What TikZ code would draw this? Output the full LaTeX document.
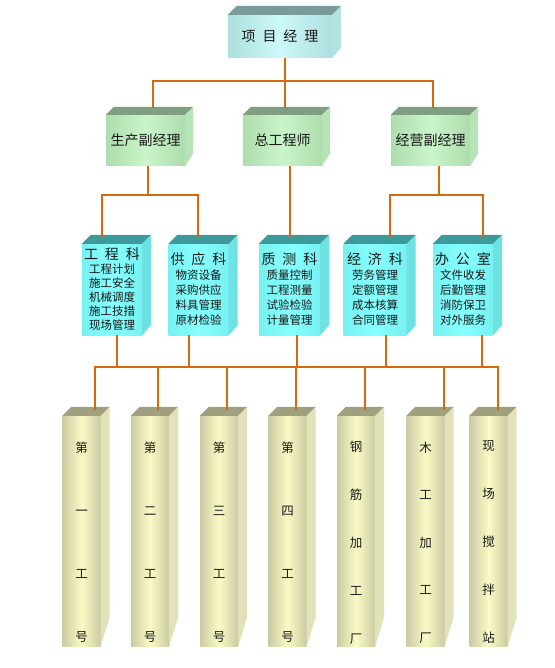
\documentclass[tikz,border=0pt]{standalone}
\usepackage{fontspec}
\newfontfamily\cjk[WordSpace=2.2]{Noto Sans CJK SC}
\newcommand{\deptfont}{\fontsize{14}{15}\selectfont}
\definecolor{linkcol}{HTML}{D4690F}
\definecolor{pmmid}{HTML}{CBF8F8}
\definecolor{pmedge}{HTML}{AEDFDF}
\definecolor{pmtopc}{HTML}{7B9B9A}
\definecolor{pmsidec}{HTML}{B2E2E2}
\definecolor{mgrmid}{HTML}{CAF5CA}
\definecolor{mgredge}{HTML}{ADDDAD}
\definecolor{mgrtopc}{HTML}{7F9F80}
\definecolor{mgrsidec}{HTML}{B6E4B6}
\definecolor{deptmid}{HTML}{86FFFF}
\definecolor{deptedge}{HTML}{76F0F0}
\definecolor{depttopc}{HTML}{3E9A9A}
\definecolor{deptsidec}{HTML}{6CE2E2}
\definecolor{teammid}{HTML}{FAFAC6}
\definecolor{teamedge}{HTML}{CBCBA2}
\definecolor{teamtopc}{HTML}{A0A07E}
\definecolor{teamsidec}{HTML}{E2E2BA}

\begin{document}
\begin{tikzpicture}[
  x=1pt, y=-1pt,
  every node/.style={inner sep=0pt, text=black!90, font=\cjk},
  link/.style={draw=linkcol, line width=2.8pt},
  pmbox/.style={minimum width=104pt, minimum height=43pt,
    left color=pmedge, right color=pmedge, middle color=pmmid,
    font=\cjk\fontsize{14}{16}\selectfont},
  mgrbox/.style={minimum width=79pt, minimum height=51pt,
    left color=mgredge, right color=mgredge, middle color=mgrmid,
    font=\cjk\fontsize{14}{16}\selectfont},
  deptbox/.style={minimum width=60pt, minimum height=91pt, align=center,
    left color=deptedge, right color=deptedge, middle color=deptmid,
    font=\cjk\fontsize{11.5}{15}\selectfont},
  teambox/.style={minimum width=38pt, minimum height=230pt,
    left color=teamedge, right color=teamedge, middle color=teammid},
  coltext/.style={align=center, yshift=-11.5pt,
    font=\cjk\fontsize{12.5}{#1}\selectfont},
  pm-top/.style={fill=pmtopc}, pm-side/.style={fill=pmsidec},
  mgr-top/.style={fill=mgrtopc}, mgr-side/.style={fill=mgrsidec},
  dept-top/.style={fill=depttopc}, dept-side/.style={fill=deptsidec},
  team-top/.style={fill=teamtopc}, team-side/.style={fill=teamsidec}
]
  \useasboundingbox (0,0) rectangle (554,668);

  % boxes
  \node[pmbox] (pm) at (280,36.5) {项 目 经 理};

  \node[mgrbox] (sc) at (145.5,140.5) {生产副经理};
  \node[mgrbox] (zg) at (282.5,140.5) {总工程师};
  \node[mgrbox] (jy) at (430.5,140.5) {经营副经理};

  \node[deptbox, font=\cjk\fontsize{11.5}{14}\selectfont] (gc) at (112,289.5)
    {{\deptfont 工 程 科}\\工程计划\\施工安全\\机械调度\\施工技措\\现场管理};
  \node[deptbox] (gy) at (198.5,289.5)
    {{\deptfont 供 应 科}\\物资设备\\采购供应\\料具管理\\原材检验};
  \node[deptbox, minimum width=61pt] (zc) at (289.5,289.5)
    {{\deptfont 质 测 科}\\质量控制\\工程测量\\试验检验\\计量管理};
  \node[deptbox, minimum width=63pt] (jj) at (375,289.5)
    {{\deptfont 经 济 科}\\劳务管理\\定额管理\\成本核算\\合同管理};
  \node[deptbox] (bg) at (463,289.5)
    {{\deptfont 办 公 室}\\文件收发\\后勤管理\\消防保卫\\对外服务};

  \node[teambox, label={[coltext=63]center:第\\一\\工\\号}] (t1) at (81.5,531) {};
  \node[teambox, label={[coltext=63]center:第\\二\\工\\号}] (t2) at (150,531) {};
  \node[teambox, label={[coltext=63]center:第\\三\\工\\号}] (t3) at (219,531) {};
  \node[teambox, label={[coltext=63]center:第\\四\\工\\号}] (t4) at (287.5,531) {};
  \node[teambox, label={[coltext=48]center:钢\\筋\\加\\工\\厂}] (gj) at (356,531) {};
  \node[teambox, label={[coltext=47.5]center:木\\工\\加\\工\\厂}] (mg) at (425.5,531) {};
  \node[teambox, label={[coltext=48]center:现\\场\\搅\\拌\\站}] (jb) at (488.5,531) {};

  % top and side faces
  \foreach \n/\d/\c/\lv in {pm/9/11/pm, sc/8/13/mgr, zg/8/13/mgr, jy/8/13/mgr,
      gc/9/10/dept, gy/9/10/dept, zc/9/10/dept, jj/9/10/dept, bg/9/10/dept,
      t1/9/29/team, t2/9/29/team, t3/9/29/team, t4/9/29/team,
      gj/9/29/team, mg/9/29/team, jb/9/29/team}{
    \fill[\lv-top] (\n.north west) -- ++(\d,-\d)
      -- ([xshift=\d pt, yshift=\d pt]\n.north east) -- (\n.north east) -- cycle;
    \fill[\lv-side] (\n.north east) -- ++(\d,-\d)
      -- ([xshift=\d pt, yshift=\c pt]\n.south east) -- (\n.south east) -- cycle;
  }

  % connectors
  \coordinate (bus1) at (0,81);
  \coordinate (bus2) at (0,195);
  \coordinate (bus3) at (0,367);

  \draw[link] ([xshift=5pt]pm.south) -- ([xshift=5pt]pm.south |- bus1);
  \draw[link] ([xshift=7.5pt,yshift=7pt]sc.north) |- ([xshift=2.5pt]jy.north |- bus1)
    -- ([xshift=2.5pt,yshift=7pt]jy.north);
  \draw[link] ([xshift=2.5pt,yshift=7pt]zg.north) -- ([xshift=2.5pt]zg.north |- bus1);

  \draw[link] ([xshift=2.5pt]sc.south) -- ([xshift=2.5pt]sc.south |- bus2);
  \draw[link] ([xshift=-10pt,yshift=7pt]gc.north) |- ([xshift=-0.5pt]gy.north |- bus2)
    -- ([xshift=-0.5pt,yshift=7pt]gy.north);
  \draw[link] ([xshift=7.5pt]zg.south) -- ([xshift=7.5pt,yshift=7pt]zg.south |- zc.north);
  \draw[link] ([xshift=8.5pt]jy.south) -- ([xshift=8.5pt]jy.south |- bus2);
  \draw[link] ([xshift=15pt,yshift=7pt]jj.north) |- ([xshift=20pt]bg.north |- bus2)
    -- ([xshift=20pt,yshift=7pt]bg.north);

  \foreach \n/\dx in {gc/5, gy/-9.5, zc/7.5, jj/11, bg/19}
    \draw[link] ([xshift=\dx pt]\n.south) -- ([xshift=\dx pt]\n.south |- bus3);
  \draw[link] ([xshift=13.5pt,yshift=6pt]t1.north) |- ([xshift=9.5pt]jb.north |- bus3)
    -- ([xshift=9.5pt,yshift=6pt]jb.north);
  \foreach \n/\dx in {t2/8, t3/8, t4/8.5, gj/9, mg/18.5}
    \draw[link] ([xshift=\dx pt,yshift=6pt]\n.north) -- ([xshift=\dx pt]\n.north |- bus3);
\end{tikzpicture}
\end{document}
